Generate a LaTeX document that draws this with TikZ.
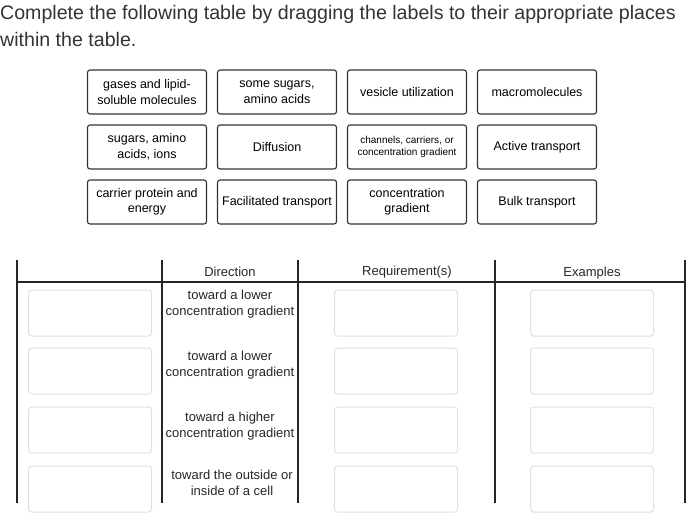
\documentclass[tikz,border=0pt]{standalone}
\usepackage{fontspec}
\setmainfont{Liberation Sans}
\begin{document}
\begin{tikzpicture}[x=1pt,y=-1pt,
  lbl/.style={draw=black!80,line width=1.1pt,rounded corners=2.5pt,minimum width=119pt,minimum height=44pt,align=center,font=\fontsize{12.5}{15.5}\selectfont,inner sep=1pt},
  slot/.style={draw=black!12,line width=1pt,rounded corners=3pt,minimum width=123pt,minimum height=46pt},
  dir/.style={align=center,font=\fontsize{13}{16.5}\selectfont,text=black!85,inner sep=0pt},
  vl/.style={line width=2pt,black!85}]
\useasboundingbox (0,0) rectangle (700,519);
\node[anchor=base west,inner sep=0,text=black!80,font=\fontsize{19.6}{24}\selectfont] (t1) at (0,20) {Complete the following table by dragging the labels to their appropriate places};
\node[anchor=base west,inner sep=0,text=black!80,font=\fontsize{19.6}{24}\selectfont] (t2) at (0,46) {within the table.};
% labels
\node[lbl] (a1) at (147,92) {gases and lipid-\\soluble molecules};
\node[lbl] (a2) at (277,92) {some sugars,\\amino acids};
\node[lbl] (a3) at (407,92) {vesicle utilization};
\node[lbl] (a4) at (537,92) {macromolecules};
\node[lbl] (b1) at (147,147) {sugars, amino\\acids, ions};
\node[lbl] (b2) at (277,147) {Diffusion};
\node[lbl,font=\fontsize{10}{12}\selectfont] (b3) at (407,147) {channels, carriers, or\\concentration gradient};
\node[lbl] (b4) at (537,147) {Active transport};
\node[lbl] (c1) at (147,202) {carrier protein and\\energy};
\node[lbl] (c2) at (277,202) {Facilitated transport};
\node[lbl] (c3) at (407,202) {concentration\\gradient};
\node[lbl] (c4) at (537,202) {Bulk transport};
% table
\coordinate (h0) at (17,282); \coordinate (h1) at (685,282);
\draw[vl] (h0) -- (h1);
\foreach \x in {17,162,298,495,685} \draw[vl] (\x,260) -- (\x,503);
\node[dir] (hd) at (230,272) {Direction};
\node[dir] (hr) at (407,272) {Requirement(s)};
\node[dir] (he) at (592,273) {Examples};
\node[dir] (d1) at (230,304) {toward a lower\\concentration gradient};
\node[dir] (d2) at (230,365) {toward a lower\\concentration gradient};
\node[dir] (d3) at (230,426) {toward a higher\\concentration gradient};
\node[dir] (d4) at (232,483) {toward the outside or\\inside of a cell};
\foreach \y/\n in {313/1,371/2,430/3,489/4}{
  \node[slot] (s1\n) at (90,\y) {};
  \node[slot] (s3\n) at (396,\y) {};
  \node[slot] (s4\n) at (592,\y) {};
}
\end{tikzpicture}
\end{document}
